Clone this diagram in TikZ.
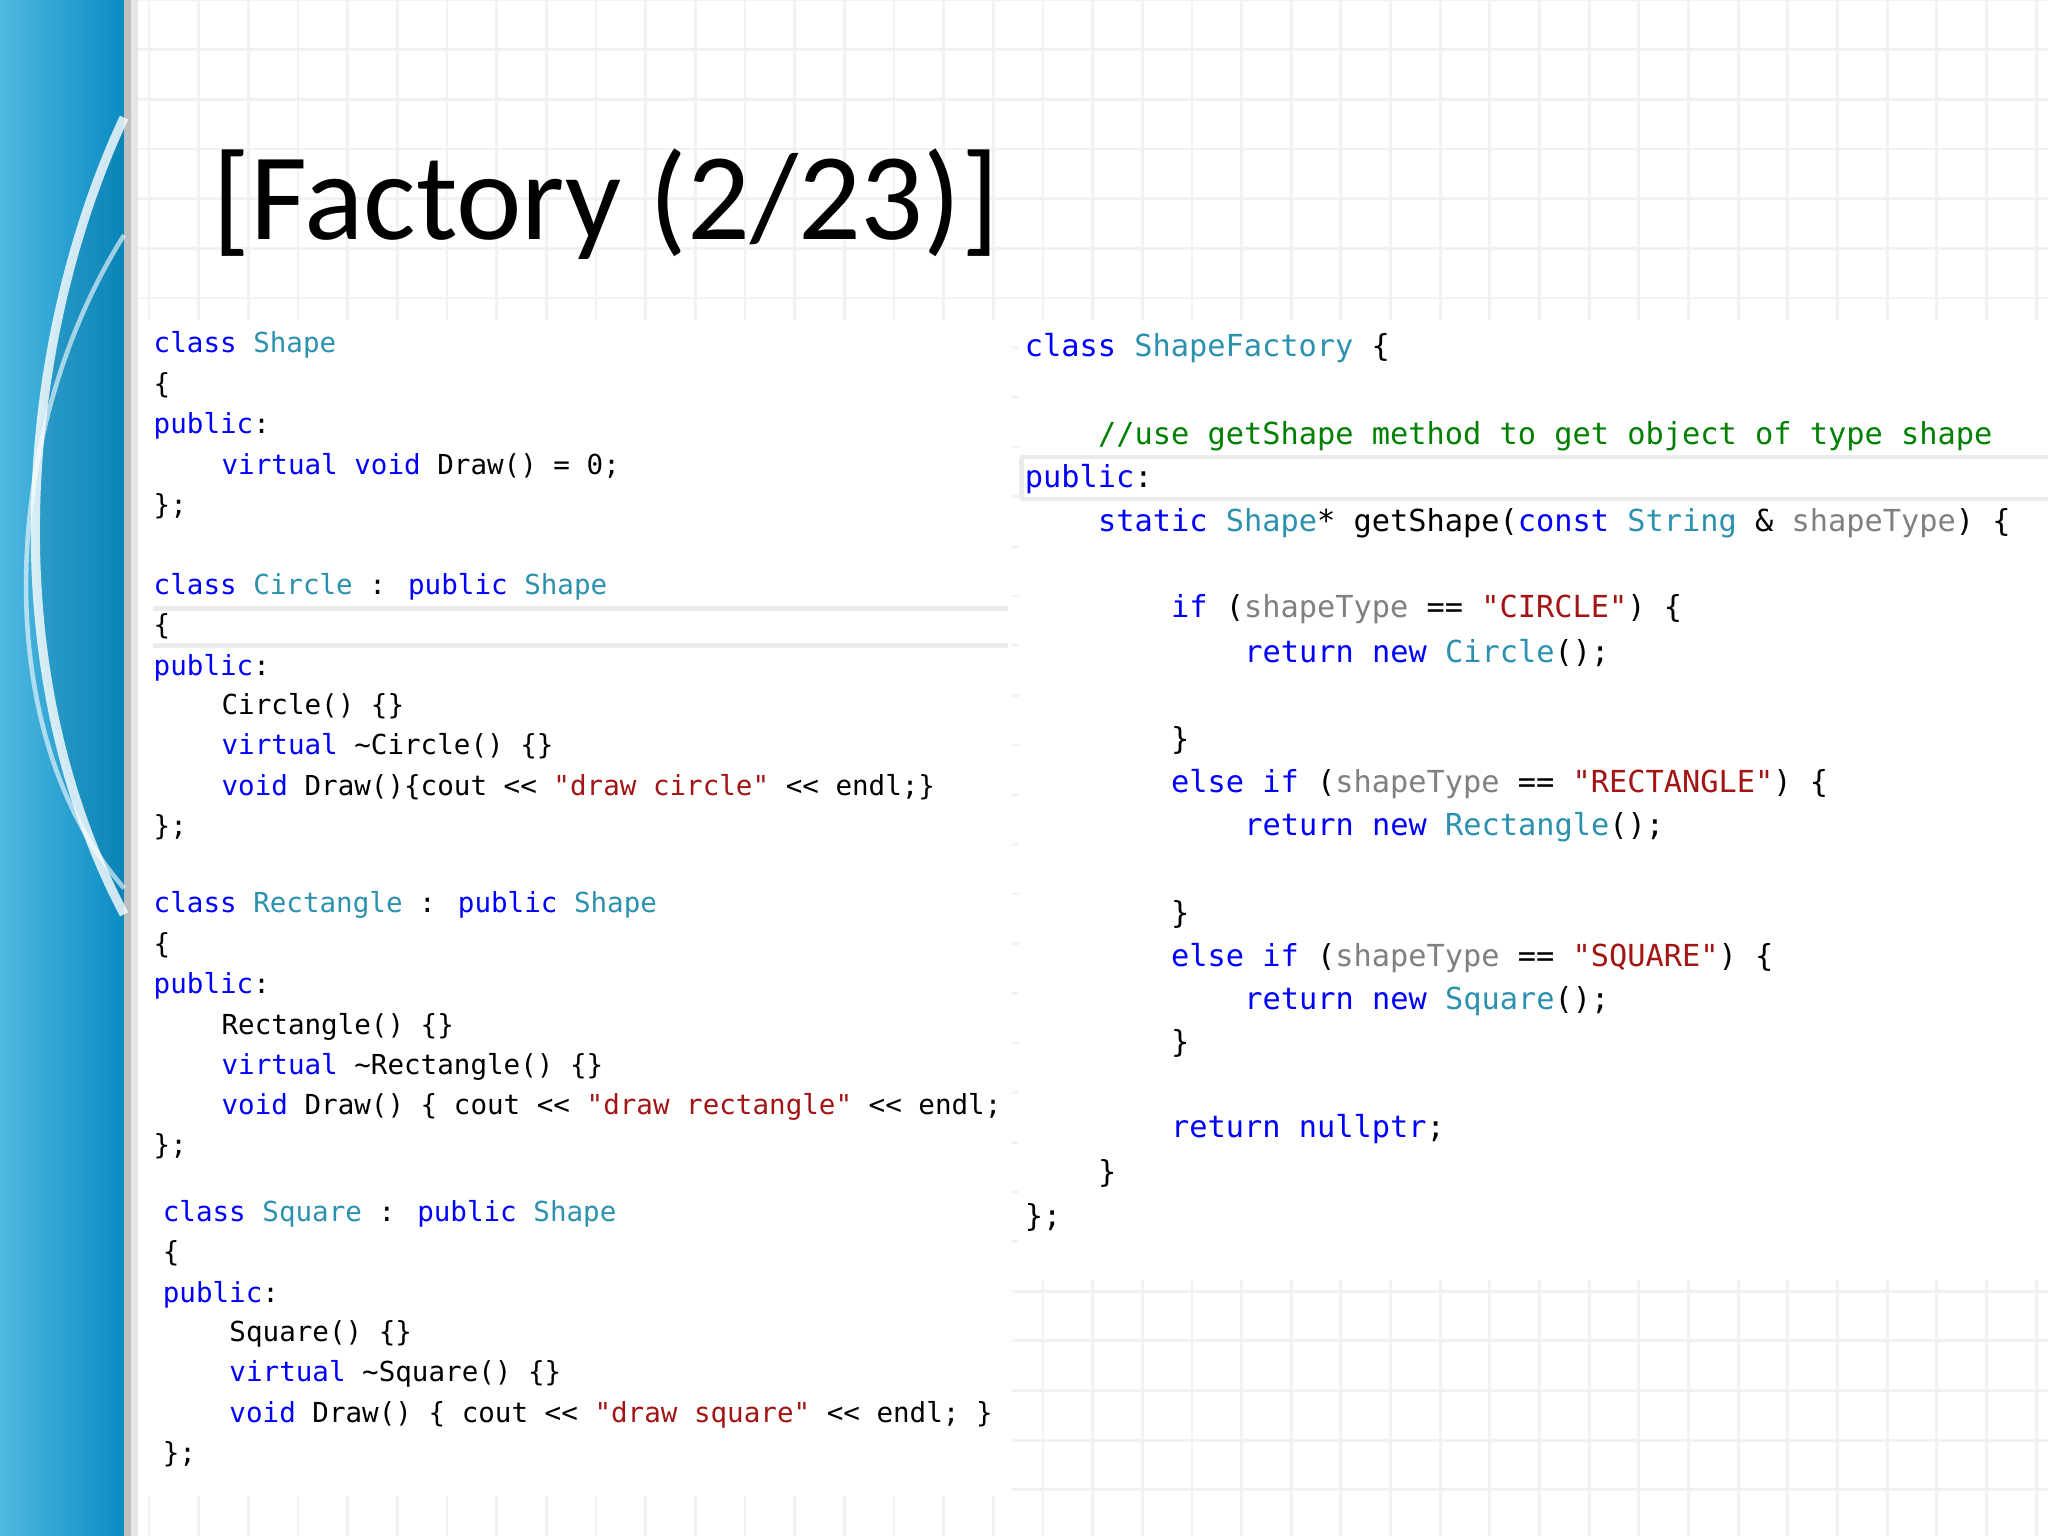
\documentclass[tikz,border=0pt]{standalone}
\usepackage{fontspec}
\newfontfamily\code{DejaVu Sans Mono}
\newfontfamily\titlefont{Carlito}
\definecolor{kwc}{RGB}{0,0,255}
\definecolor{tyc}{RGB}{43,145,175}
\definecolor{stc}{RGB}{163,21,21}
\definecolor{cmc}{RGB}{0,128,0}
\definecolor{pac}{RGB}{128,128,128}
\definecolor{bandA}{RGB}{80,185,225}
\definecolor{bandB}{RGB}{10,140,195}
\newcommand{\kw}[1]{\textcolor{kwc}{#1}}
\newcommand{\ty}[1]{\textcolor{tyc}{#1}}
\newcommand{\st}[1]{\textcolor{stc}{#1}}
\newcommand{\cm}[1]{\textcolor{cmc}{#1}}
\newcommand{\pa}[1]{\textcolor{pac}{#1}}
\newcommand{\lb}{\{}
\newcommand{\rb}{\}}
\newcommand{\tl}{\textasciitilde}
\begin{document}
\begin{tikzpicture}[x=0.01cm,y=-0.01cm,
  L/.style={anchor=base west,inner sep=0pt,font=\code\fontsize{6.0}{7}\selectfont},
  R/.style={anchor=base west,inner sep=0pt,font=\code\fontsize{6.6}{8}\selectfont}]
\useasboundingbox (0,0) rectangle (1568,1176);
\fill[white] (0,0) rectangle (1568,1176);
\draw[black!5,line width=0.6pt,step=0.38cm] (95,0) grid (1568,1176);
\fill[white] (105,245) rectangle (775,1145);
\fill[white] (780,245) rectangle (1568,980);
\draw[black!8,line width=1pt] (117,466) -- (772,466) (117,494) -- (772,494);
\draw[black!8,line width=1pt] (782,350) -- (1568,350) (782,382) -- (1568,382) (782,350) -- (782,382);
% left band
\shade[left color=bandA,right color=bandB] (0,0) rectangle (95,1176);
\fill[black!25] (95,0) rectangle (100,1176);
\fill[black!10] (100,0) rectangle (106,1176);
\fill[bandB!80!black,opacity=0.25] (95,90) .. controls (20,250) and (-10,500) .. (95,700) -- cycle;
\draw[white,line width=2pt,opacity=0.8] (95,90) .. controls (20,250) and (-10,500) .. (95,700);
\draw[white,line width=1pt,opacity=0.6] (95,180) .. controls (0,330) and (-10,560) .. (95,680);
% title
\node[anchor=base west,inner sep=0pt,font=\titlefont\fontsize{27}{32}\selectfont] (title) at (162,183) {[Factory (2/23)]};
% left code
\node[L] (l1) at (117,270) {\kw{class} \ty{Shape}};
\node[L] (l2) at (117,301) {\lb};
\node[L] (l3) at (117,332) {\kw{public}:};
\node[L] (l4) at (169,363) {\kw{virtual} \kw{void} Draw() = 0;};
\node[L] (l5) at (117,394) {\rb;};
\node[L] (l6) at (117,455) {\kw{class} \ty{Circle} : \kw{public} \ty{Shape}};
\node[L] (l7) at (117,486) {\lb};
\node[L] (l8) at (117,517) {\kw{public}:};
\node[L] (l9) at (169,547) {Circle() \lb\rb};
\node[L] (l10) at (169,578) {\kw{virtual} \tl Circle() \lb\rb};
\node[L] (l11) at (169,609) {\kw{void} Draw()\lb cout << \st{"draw circle"} << endl;\rb};
\node[L] (l12) at (117,640) {\rb;};
\node[L] (l13) at (117,699) {\kw{class} \ty{Rectangle} : \kw{public} \ty{Shape}};
\node[L] (l14) at (117,730) {\lb};
\node[L] (l15) at (117,761) {\kw{public}:};
\node[L] (l16) at (169,792) {Rectangle() \lb\rb};
\node[L] (l17) at (169,823) {\kw{virtual} \tl Rectangle() \lb\rb};
\node[L] (l18) at (169,853) {\kw{void} Draw() \lb{} cout << \st{"draw rectangle"} << endl;};
\node[L] (l19) at (117,884) {\rb;};
\node[L] (l20) at (124,935) {\kw{class} \ty{Square} : \kw{public} \ty{Shape}};
\node[L] (l21) at (124,966) {\lb};
\node[L] (l22) at (124,997) {\kw{public}:};
\node[L] (l23) at (175,1027) {Square() \lb\rb};
\node[L] (l24) at (175,1058) {\kw{virtual} \tl Square() \lb\rb};
\node[L] (l25) at (175,1089) {\kw{void} Draw() \lb{} cout << \st{"draw square"} << endl; \rb};
\node[L] (l26) at (124,1120) {\rb;};
% right code
\node[R] (r1) at (784,273) {\kw{class} \ty{ShapeFactory} \lb};
\node[R] (r2) at (840,340) {\cm{//use getShape method to get object of type shape}};
\node[R] (r3) at (784,373) {\kw{public}:};
\node[R] (r4) at (840,407) {\kw{static} \ty{Shape}* getShape(\kw{const} \ty{String} \& \pa{shapeType}) \lb};
\node[R] (r5) at (896,473) {\kw{if} (\pa{shapeType} == \st{"CIRCLE"}) \lb};
\node[R] (r6) at (952,507) {\kw{return} \kw{new} \ty{Circle}();};
\node[R] (r7) at (896,574) {\rb};
\node[R] (r8) at (896,607) {\kw{else} \kw{if} (\pa{shapeType} == \st{"RECTANGLE"}) \lb};
\node[R] (r9) at (952,640) {\kw{return} \kw{new} \ty{Rectangle}();};
\node[R] (r10) at (896,707) {\rb};
\node[R] (r11) at (896,740) {\kw{else} \kw{if} (\pa{shapeType} == \st{"SQUARE"}) \lb};
\node[R] (r12) at (952,773) {\kw{return} \kw{new} \ty{Square}();};
\node[R] (r13) at (896,806) {\rb};
\node[R] (r14) at (896,871) {\kw{return} \kw{nullptr};};
\node[R] (r15) at (840,905) {\rb};
\node[R] (r16) at (784,939) {\rb;};
\end{tikzpicture}
\end{document}
